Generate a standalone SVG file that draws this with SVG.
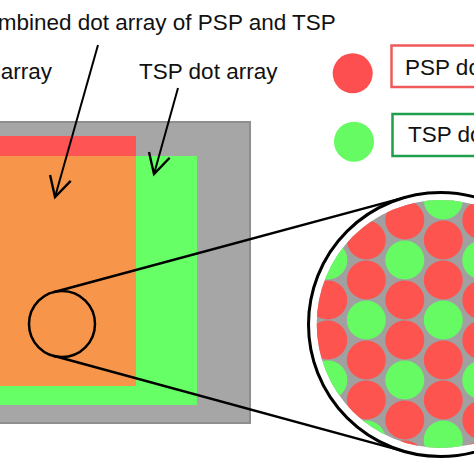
<svg xmlns="http://www.w3.org/2000/svg" width="474" height="474" viewBox="0 0 474 474">
<style>
  text{font-family:"Liberation Sans",Arial,Helvetica,sans-serif;font-size:22.5px;fill:#111}
  .ln{stroke:#000;stroke-width:2.5;fill:none}
  .ar{stroke:#000;stroke-width:2;fill:none}
  .r{fill:#fd5450}
  .g{fill:#66fb62}
</style>
<defs>
  <marker id="head" markerUnits="userSpaceOnUse" markerWidth="30" markerHeight="30" viewBox="-22 -14 26 28" refX="0" refY="0" orient="auto">
    <path d="M-18.5,-10 L0,0 L-18.5,10" fill="none" stroke="#000" stroke-width="2.2"/>
  </marker>
  <clipPath id="mag"><circle cx="440.7" cy="324" r="124"/></clipPath>
</defs>
<rect width="474" height="474" fill="#fff"/>

<g id="labels">
  <text x="-31" y="30">Combined dot array of PSP and TSP</text>
  <text x="52" y="79" text-anchor="end">PSP dot array</text>
  <text x="139" y="79">TSP dot array</text>
</g>

<g id="substrate">
  <rect x="-5" y="122" width="255" height="301" fill="#a6a6a6" stroke="#8e8e8e" stroke-width="2"/>
  <rect x="-5" y="156" width="202" height="249" fill="#66ff66"/>
  <rect x="-5" y="136" width="141" height="20" fill="#fe5454"/>
  <rect x="-5" y="156" width="141" height="230" fill="#f7954a"/>
</g>

<g id="zoom-spot">
  <circle cx="62" cy="324" r="33" class="ln" stroke-width="3"/>
</g>

<g id="magnified">
  <circle cx="440.5" cy="324.5" r="132" fill="#fff" stroke="#000" stroke-width="3"/>
  <g clip-path="url(#mag)">
    <rect x="310" y="195" width="170" height="260" fill="#a0a0a0"/>
    <!-- k=-3 x=327.8 (odd) -->
    <circle cx="327.8" cy="260" r="19.5" class="g"/>
    <circle cx="327.8" cy="300" r="19.5" class="r"/>
    <circle cx="327.8" cy="340" r="19.5" class="r"/>
    <circle cx="327.8" cy="380" r="19.5" class="g"/>
    <circle cx="327.8" cy="220" r="19.5" class="r"/>
    <circle cx="327.8" cy="420" r="19.5" class="r"/>
    <!-- k=-2 x=366.3 (even) -->
    <circle cx="366.3" cy="200" r="19.5" class="g"/>
    <circle cx="366.3" cy="240" r="19.5" class="r"/>
    <circle cx="366.3" cy="280" r="19.5" class="r"/>
    <circle cx="366.3" cy="320" r="19.5" class="g"/>
    <circle cx="366.3" cy="360" r="19.5" class="r"/>
    <circle cx="366.3" cy="400" r="19.5" class="r"/>
    <circle cx="366.3" cy="440" r="19.5" class="g"/>
    <!-- k=-1 x=404.8 (odd) -->
    <circle cx="404.8" cy="180" r="19.5" class="r"/>
    <circle cx="404.8" cy="220" r="19.5" class="r"/>
    <circle cx="404.8" cy="260" r="19.5" class="g"/>
    <circle cx="404.8" cy="300" r="19.5" class="r"/>
    <circle cx="404.8" cy="340" r="19.5" class="r"/>
    <circle cx="404.8" cy="380" r="19.5" class="g"/>
    <circle cx="404.8" cy="420" r="19.5" class="r"/>
    <circle cx="404.8" cy="460" r="19.5" class="r"/>
    <!-- k=0 x=443.3 (even) -->
    <circle cx="443.3" cy="200" r="19.5" class="g"/>
    <circle cx="443.3" cy="240" r="19.5" class="r"/>
    <circle cx="443.3" cy="280" r="19.5" class="r"/>
    <circle cx="443.3" cy="320" r="19.5" class="g"/>
    <circle cx="443.3" cy="360" r="19.5" class="r"/>
    <circle cx="443.3" cy="400" r="19.5" class="r"/>
    <circle cx="443.3" cy="440" r="19.5" class="g"/>
    <!-- k=1 x=481.8 (odd) -->
    <circle cx="481.8" cy="180" r="19.5" class="r"/>
    <circle cx="481.8" cy="220" r="19.5" class="r"/>
    <circle cx="481.8" cy="260" r="19.5" class="g"/>
    <circle cx="481.8" cy="300" r="19.5" class="r"/>
    <circle cx="481.8" cy="340" r="19.5" class="r"/>
    <circle cx="481.8" cy="380" r="19.5" class="g"/>
    <circle cx="481.8" cy="420" r="19.5" class="r"/>
    <circle cx="481.8" cy="460" r="19.5" class="r"/>
  </g>
</g>

<g id="legend-psp">
  <circle cx="352.7" cy="73.3" r="20" fill="#fd4f4f"/>
  <rect x="391.5" y="45.5" width="100" height="41.5" fill="#fff" stroke="#f05a5a" stroke-width="2.5"/>
  <text x="405" y="75">PSP dot array</text>
</g>

<g id="legend-tsp">
  <circle cx="354" cy="141.7" r="20" fill="#66fb62"/>
  <rect x="392.5" y="114" width="100" height="42" fill="#fff" stroke="#1f9e4c" stroke-width="2.5"/>
  <text x="408" y="142">TSP dot array</text>
</g>

<g id="connectors">
  <line x1="98" y1="45" x2="55" y2="197" class="ar" marker-end="url(#head)"/>
  <line x1="178" y1="88" x2="154" y2="174" class="ar" marker-end="url(#head)"/>
  <line x1="53.4" y1="292.2" x2="406" y2="197.1" class="ln"/>
  <line x1="53.4" y1="355.8" x2="406" y2="451.9" class="ln"/>
</g>
</svg>
